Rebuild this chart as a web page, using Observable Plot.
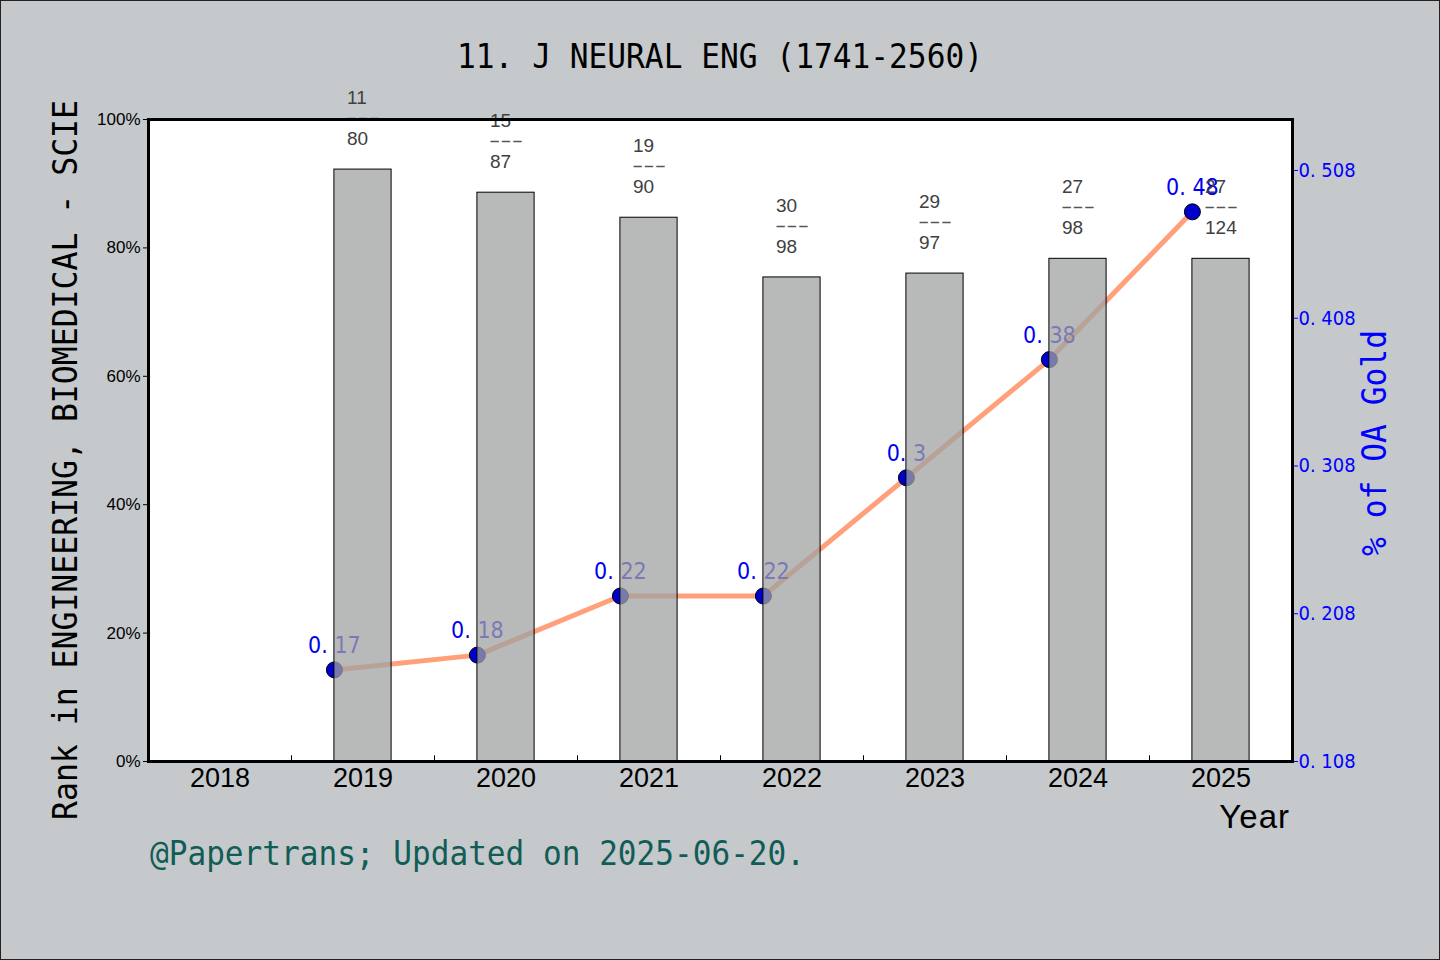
<!DOCTYPE html>
<html>
<head>
<meta charset="utf-8">
<script src="https://cdn.jsdelivr.net/npm/d3@7"></script>
<script src="https://cdn.jsdelivr.net/npm/@observablehq/plot@0.6"></script>
<style>
  html, body { margin: 0; padding: 0; background: #c5c9cc; }
  #chart { position: relative; width: 1440px; height: 960px; background: #c5c9cc; overflow: hidden; box-shadow: inset 0 0 0 1px #222; }
  #chart svg { position: absolute; left: 0; top: 0; }
</style>
</head>
<body>
<div id="chart"></div>
<script>
// ---- data ----
const years = [2018, 2019, 2020, 2021, 2022, 2023, 2024, 2025];
const rankInCategory = [null, 11, 15, 19, 30, 29, 27, 27];
const journalsInCategory = [null, 80, 87, 90, 98, 97, 98, 124];
const rankPercent = [null, 0.922, 0.886, 0.847, 0.754, 0.760, 0.783, 0.783];
const oaGoldShare = [null, 0.17, 0.18, 0.22, 0.22, 0.30, 0.38, 0.48];
const leftTicks = [0, 0.2, 0.4, 0.6, 0.8, 1.0];
const rightTicks = [0.108, 0.208, 0.308, 0.408, 0.508];
const titleText = "11. J NEURAL ENG (1741-2560)";
const leftLabel = "Rank in ENGINEERING, BIOMEDICAL - SCIE";
const rightLabel = "% of OA Gold";
const xLabel = "Year";
const captionText = "@Papertrans; Updated on 2025-06-20.";

const rows = years.map((year, i) => ({
  year, rank: rankInCategory[i], total: journalsInCategory[i],
  pct: rankPercent[i], oa: oaGoldShare[i]
}));
const withBars = rows.filter(d => d.pct != null);
const withOA = rows.filter(d => d.oa != null);

const W = 1440, H = 960;
const margins = { width: W, height: H, marginLeft: 148, marginRight: 148, marginTop: 119, marginBottom: 199 };
const xScale = { type: "band", domain: years, paddingInner: 0.6, paddingOuter: 0.3, align: 0.5, round: false, axis: null };
const mono = "'DejaVu Sans Mono', monospace";
const cond = "'DejaVu Sans Condensed', 'DejaVu Sans', sans-serif";
const sans = "'Liberation Sans', Arial, sans-serif";

// ---- bottom layer: plot background, OA line, dots, labels, right axis ----
const lower = Plot.plot({
  ...margins,
  style: { background: "transparent", fontFamily: sans, fontSize: "17px", overflow: "visible" },
  x: xScale,
  y: { domain: [0.108, 0.5425], axis: null },
  marks: [
    Plot.frame({ fill: "white", stroke: null }),
    Plot.line(withOA, { x: "year", y: "oa", stroke: "#ffa07a", strokeWidth: 5, curve: "linear", dx: -28.6 }),
    Plot.dot(withOA, { x: "year", y: "oa", r: 8, fill: "#0000cc", stroke: "black", strokeWidth: 1, dx: -28.6 }),
    Plot.text(withOA, { x: "year", y: "oa", text: d => String(d.oa).replace(".", ". "), dx: -28.6, dy: -24,
      fill: "#0000ee", fontFamily: cond, fontSize: 23 }),
    Plot.axisY({ anchor: "right", ticks: rightTicks, tickFormat: d => d3.format(".3f")(d).replace(".", ". "),
      tickSize: 5, tickPadding: 1, color: "#0000ff", fontFamily: cond, fontSize: 20, label: null })
  ]
});

// ---- top layer: bars, bar labels, left & bottom axes, frame ----
const upper = Plot.plot({
  ...margins,
  style: { background: "transparent", fontFamily: sans, fontSize: "17px", overflow: "visible" },
  x: xScale,
  y: { domain: [0, 1], axis: null },
  marks: [
    Plot.barY(withBars, { x: "year", y: "pct", fill: "#a0a1a2", fillOpacity: 0.75, stroke: "black", strokeWidth: 1 }),
    Plot.text(withBars, { x: "year", y: "pct", text: d => String(d.rank), dx: -16, dy: -72, textAnchor: "start", fill: "#404040", fontSize: 19 }),
    Plot.text(withBars, { x: "year", y: "pct", text: () => "---", dx: -17, dy: -52, textAnchor: "start", fill: "#555", fontSize: 19, className: "dashes" }),
    Plot.text(withBars, { x: "year", y: "pct", text: d => String(d.total), dx: -16, dy: -31, textAnchor: "start", fill: "#404040", fontSize: 19 }),
    Plot.axisY({ anchor: "left", ticks: leftTicks, tickFormat: d3.format(".0%"), tickSize: 5, tickPadding: 3, fontSize: 17, label: null }),
    Plot.axisX({ anchor: "bottom", tickSize: 0, tickPadding: 6, fontSize: 27, label: null, tickFormat: d => String(d) }),
    Plot.ruleX(years.slice(0, -1), { x: d => d, y1: 0, y2: 0.009, dx: 71.5, stroke: "black" }),
    Plot.frame({ stroke: "black", strokeWidth: 3 })
  ]
});
// stretch the "---" separators into wide dashes
d3.select(upper).selectAll(".dashes text").attr("textLength", 34).attr("lengthAdjust", "spacingAndGlyphs");

const chart = document.getElementById("chart");
chart.appendChild(lower);
chart.appendChild(upper);

// ---- titles and captions ----
const ann = d3.create("svg").attr("width", W).attr("height", H).style("overflow", "visible");
function label(sel, txt, len) {
  return sel.text(txt).attr("textLength", len).attr("lengthAdjust", "spacingAndGlyphs");
}
label(ann.append("text").attr("x", 720).attr("y", 68).attr("text-anchor", "middle")
  .attr("font-family", mono).attr("font-size", 34).attr("fill", "black"), titleText, 526);
label(ann.append("text").attr("transform", "translate(77,460) rotate(-90)").attr("text-anchor", "middle")
  .attr("font-family", mono).attr("font-size", 34).attr("fill", "black"), leftLabel, 720);
label(ann.append("text").attr("transform", "translate(1386,443) rotate(-90)").attr("text-anchor", "middle")
  .attr("font-family", mono).attr("font-size", 34).attr("fill", "#0000ff"), rightLabel, 226);
ann.append("text").attr("x", 1290).attr("y", 828).attr("text-anchor", "end")
  .attr("font-family", sans).attr("font-size", 33).attr("letter-spacing", 1).attr("fill", "black").text(xLabel);
label(ann.append("text").attr("x", 150).attr("y", 865)
  .attr("font-family", mono).attr("font-size", 34).attr("fill", "#115c55"), captionText, 655);
chart.appendChild(ann.node());
</script>
</body>
</html>
